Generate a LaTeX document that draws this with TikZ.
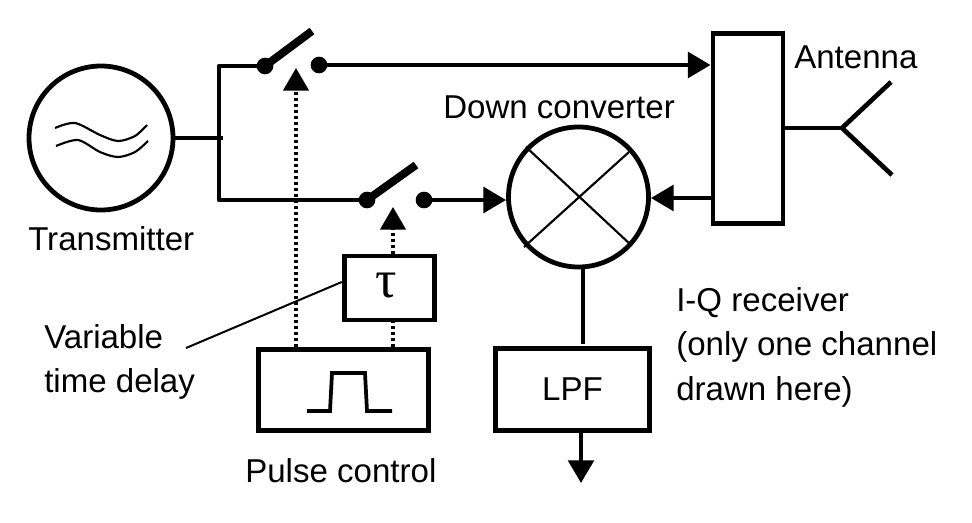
\documentclass[tikz,border=0pt]{standalone}
\usepackage{fontspec}
\setmainfont{Liberation Sans}
\newfontfamily\serifgreek{Liberation Serif}
\usetikzlibrary{arrows.meta}
\tikzset{
  wire/.style={line width=3.5pt,line join=round},
  thinwire/.style={line width=1.6pt},
  blockbox/.style={draw,line width=3.6pt,inner sep=0pt},
  roundel/.style={circle,draw,line width=3.6pt,inner sep=0pt},
  contact/.style={circle,fill,inner sep=0pt,minimum size=12.5pt},
  label/.style={anchor=base west,inner sep=0pt,font=\fontsize{24.8}{29}\selectfont},
  ctrl/.style={line width=2.6pt,dash pattern=on 1.9pt off 2.6pt}
}
\begin{document}
\begin{tikzpicture}[x=0.75pt,y=-0.75pt,>={Triangle[length=17pt,width=19pt]}]
   \useasboundingbox (0,0) rectangle (972,522);

   % 送信機
   \node[roundel,minimum size=108pt] (tx) at (101,138) {};
   \draw[thinwire] plot[smooth] coordinates {(55,128) (75,123) (100,135) (118,141) (135,136) (147,125)};
   \draw[thinwire] plot[smooth] coordinates {(56,146) (78,140) (100,152) (118,157) (135,152) (148,141)};
   \node[label] (txlabel) at (28,250) {Transmitter};

   % スイッチ
   \node[contact] (swa) at (265,66) {};
   \node[contact] (swb) at (319,65) {};
   \node[contact] (swc) at (367,200) {};
   \node[contact] (swd) at (424,200) {};
   \coordinate (bladea) at (312,31);
   \coordinate (bladeb) at (416,165);
   \draw[line width=6pt] (swa.center) -- (bladea);
   \draw[line width=6pt] (swc.center) -- (bladeb);

   % ブロック
   \node[blockbox,minimum width=52.5pt,minimum height=143pt] (duplexer) at (748,128.5) {};
   \node[roundel,minimum size=105pt] (mix) at (578.5,197) {};
   \node[blockbox,minimum width=68pt,minimum height=48pt] (delay) at (389.5,288) {};
   \node[font=\serifgreek\fontsize{40}{44}\selectfont,inner sep=0pt] (tau) at (386,286) {τ};
   \node[blockbox,minimum width=128pt,minimum height=61pt] (pulse) at (343.5,390) {};
   \node[blockbox,minimum width=116pt,minimum height=61pt,font=\fontsize{24.8}{29}\selectfont] (lpf) at (572.5,389.5) {LPF};

   % 配線
   \coordinate (jnt) at (219,137);
   \coordinate (jnttip) at (223,138);
   \draw[wire] (tx.east) -- (jnttip);
   \draw[wire] (swa.center) -- (jnt |- swa) -- (jnt |- swc) -- (swc.center);
   \draw[wire,->] (swb.center) -- (duplexer.west |- swb);
   \draw[wire,->] (swd.center) -- (mix.west |- swd);
   \coordinate (rxport) at (712,198);
   \draw[wire,->] (rxport) -- (mix.east |- rxport);

   % アンテナ
   \coordinate (ant) at (842,128);
   \coordinate (antup) at (891,82);
   \coordinate (antdown) at (892,175);
   \draw[wire] (duplexer.east |- ant) -- (ant);
   \draw[wire] (antup) -- (ant) -- (antdown);
   \node[label] (antlabel) at (794,68) {Antenna};

   % ミキサ
   \draw[thinwire] (526,147) -- (631,245);
   \draw[thinwire] (629,152) -- (524,247);
   \node[label] (mixlabel) at (443,118) {Down converter};
   \coordinate (ifout) at (583,344);
   \draw[wire] (583,268) -- (ifout);
   \coordinate (lpfout) at (581,483);
   \draw[wire,->] (lpf.south -| lpfout) -- (lpfout);
   \node[label] (iqa) at (676,311) {I-Q receiver};
   \node[label] (iqb) at (676,355) {(only one channel};
   \node[label] (iqc) at (676,400) {drawn here)};

   % 制御
   \coordinate (ctrla) at (296,68);
   \coordinate (ctrlb) at (393,207);
   \draw[ctrl,->] (pulse.north -| ctrla) -- (ctrla);
   \draw[ctrl] (pulse.north -| ctrlb) -- (delay.south -| ctrlb);
   \draw[ctrl,->] (delay.north -| ctrlb) -- (ctrlb);
   \coordinate (pulsea) at (307,411);
   \draw[line width=2.8pt] (pulsea) -- (330,411) -- (332,373) -- (365,373) -- (367,411) -- (392,411);
   \node[label] (pulselabel) at (245,482) {Pulse control};

   % 補助線
   \coordinate (leader) at (186,348);
   \draw[line width=1.5pt] (delay.west |- 0,282) -- (leader);
   \node[label] (delaya) at (44,348) {Variable};
   \node[label] (delayb) at (44,392) {time delay};
\end{tikzpicture}
\end{document}
